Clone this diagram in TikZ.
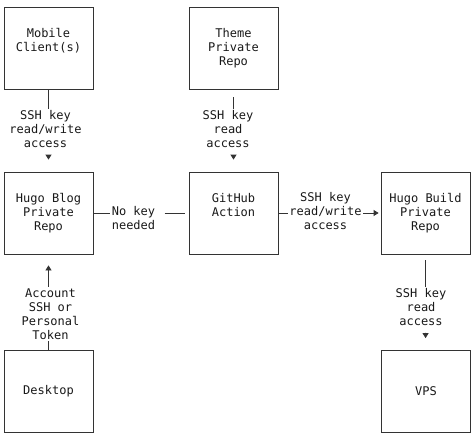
\documentclass[tikz,border=0pt]{standalone}
\usepackage{fontspec}
\setmonofont{DejaVu Sans Mono}
\usetikzlibrary{arrows.meta}

\begin{document}
\begin{tikzpicture}[x=1pt,y=-1pt,line width=0.8pt,draw=black!80,>={Triangle[width=6pt,length=5pt]},
        every node/.style={font=\ttfamily\fontsize{12}{14}\selectfont,align=center,text=black!90},
        box/.style={shape=rectangle,draw=black!80,minimum width=89pt,minimum height=82pt},
        twoline/.style={text depth=17pt},
        lab/.style={inner sep=1pt}]
        \useasboundingbox (0, 0) rectangle (474, 440);
        \node[box,twoline](mobile)at(48.5, 48){Mobile\\Client(s)};
        \node[box](theme)at(233.5, 48){Theme\\Private\\Repo};
        \node[box](blog)at(48.5, 213){Hugo Blog\\Private\\Repo};
        \node[box,twoline](action)at(233.5, 213){GitHub\\Action};
        \node[box](build)at(425.5, 213){Hugo Build\\Private\\Repo};
        \node[box](desktop)at(48.5, 391.5){Desktop};
        \node[box](vps)at(426, 391.5){VPS};
        \node[lab](keym)at(45.5, 129.3){SSH key\\read/write\\access};
        \node[lab](keyt)at(228, 129.3){SSH key\\read\\access};
        \node[lab](nokey)at(133.5, 217.8){No key\\needed};
        \node[lab](keyb)at(325.5, 210.8){SSH key\\read/write\\access};
        \node[lab](token)at(50.5, 313.8){Account\\SSH or\\Personal\\Token};
        \node[lab](keyv)at(421, 306.8){SSH key\\read\\access};
        \draw (mobile) -- (mobile |- keym.north);
        \draw[->,shorten <=6pt,shorten >=12pt] (mobile |- keym.south) -- (blog);
        \draw[shorten <=8pt] (theme) -- (theme |- keyt.north);
        \draw[->,shorten <=6pt,shorten >=12pt] (theme |- keyt.south) -- (action);
        \draw (blog) -- (blog -| nokey.west);
        \draw[shorten <=8pt,shorten >=4pt] (action -| nokey.east) -- (action);
        \draw (action) -- (action -| keyb.west);
        \draw[->,shorten >=2pt] (action -| keyb.east) -- (build);
        \draw (desktop) -- (desktop |- token.south);
        \draw[->,shorten >=11pt] (desktop |- token.north) -- (blog);
        \draw[shorten <=6pt] (build) -- (build |- keyv.north);
        \draw[->,shorten <=6pt,shorten >=12pt] (build |- keyv.south) -- (vps);
    \end{tikzpicture}
\end{document}
